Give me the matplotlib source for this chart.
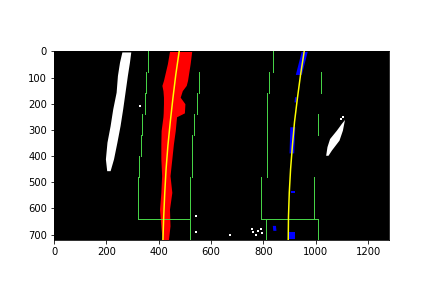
import numpy as np
import matplotlib
matplotlib.use("Agg")
import matplotlib.pyplot as plt

IMG_H, IMG_W = 720, 1280
WIN_H = 80

# sliding windows, listed from bottom (window 1) to top (window 9); NaN = edge not visible
left_win_left = [np.nan, 321, 319, 324, 331, 336, 347, 352, 357]
left_win_right = [520, 520, 520, 527, 527, 535, 548, 553, np.nan]
right_win_left = [809, 791, 791, 812, 812, 812, 815, 823, 835]
right_win_right = [1010, 995, 995, np.nan, np.nan, 1010, np.nan, 1021, np.nan]
bottom_edge_y = 640
left_bottom_edge = (321, 520)
right_bottom_edge = (791, 1010)

# left lane pixels (red)
red_y = [0, 47, 111, 130, 150, 175, 200, 235, 250, 303, 354, 411, 475, 539, 603, 667, 720]
red_left = [441, 433, 418, 412, 416, 418, 418, 417, 416, 409, 408, 408, 411, 408, 403, 408, 413]
red_right = [526, 520, 510, 505, 490, 482, 500, 498, 468, 463, 456, 450, 443, 450, 441, 443, 437]

# other lane-line pixels on the left (white)
wl_y = [2, 41, 92, 156, 220, 284, 347, 411, 456]
wl_left = [259, 250, 242, 237, 224, 214, 202, 196, 201]
wl_right = [293, 288, 280, 271, 262, 252, 240, 227, 214]

# white blob on the right
wr_x = [1112, 1104, 1091, 1062, 1049, 1040, 1045, 1055, 1081, 1100]
wr_y = [262, 303, 341, 379, 399, 399, 366, 335, 303, 277]

# white specks
speck_x = [329, 543, 543, 673, 755, 760, 772, 790, 795, 780, 1105, 1098]
speck_y = [207, 628, 690, 700, 678, 690, 700, 680, 695, 688, 250, 258]

# right lane pixels (blue): y top/bottom, x-range at top and at bottom
blue_y_top = [0, 175, 290, 533, 689, 667]
blue_y_bot = [90, 195, 390, 541, 718, 686]
blue_xl_top = [947, 921, 903, 906, 899, 836]
blue_xr_top = [970, 927, 922, 919, 922, 848]
blue_xl_bot = [924, 919, 900, 906, 899, 838]
blue_xr_bot = [947, 925, 918, 919, 922, 850]

# fitted lane lines
fit_y = [0, 90, 180, 270, 360, 450, 540, 630, 720]
left_fit_x = [478, 465, 454, 444, 435, 428, 423, 419, 416]
right_fit_x = [956, 942, 930, 919, 911, 904, 899, 896, 895]

fig, ax = plt.subplots(figsize=(6, 4), dpi=72)
ax.imshow(np.zeros((IMG_H, IMG_W, 3)))

ax.fill_betweenx(red_y, red_left, red_right, color=(1, 0, 0), lw=0, zorder=2)
ax.fill_betweenx(wl_y, wl_left, wl_right, color="white", lw=0, zorder=2)
ax.fill(wr_x, wr_y, color="white", lw=0, zorder=2)
ax.scatter(speck_x, speck_y, s=1.5, marker="s", color="white", lw=0, zorder=2)
for yt, yb, a, b, c, d in zip(blue_y_top, blue_y_bot, blue_xl_top, blue_xr_top, blue_xl_bot, blue_xr_bot):
    ax.fill([a, b, d, c], [yt, yt, yb, yb], color=(0, 0, 1), lw=0, zorder=2)

green = "#46d246"
for i in range(len(left_win_left)):
    y_hi = IMG_H - WIN_H * (i + 1)
    y_lo = IMG_H - WIN_H * i
    for xe in (left_win_left[i], left_win_right[i], right_win_left[i], right_win_right[i]):
        if not np.isnan(xe):
            ax.vlines(xe, y_hi, y_lo, color=green, lw=1, antialiased=False, zorder=3)
ax.hlines(bottom_edge_y, *left_bottom_edge, color=green, lw=1, antialiased=False, zorder=3)
ax.hlines(bottom_edge_y, *right_bottom_edge, color=green, lw=1, antialiased=False, zorder=3)

ax.plot(left_fit_x, fit_y, color="yellow", lw=1.5, zorder=4)
ax.plot(right_fit_x, fit_y, color="yellow", lw=1.5, zorder=4)

ax.set_xlim(-0.5, IMG_W - 0.5)
ax.set_ylim(IMG_H - 0.5, -0.5)
ax.set_xticks([0, 200, 400, 600, 800, 1000, 1200])
ax.set_yticks([0, 100, 200, 300, 400, 500, 600, 700])

fig.savefig("out.png", dpi=72)
